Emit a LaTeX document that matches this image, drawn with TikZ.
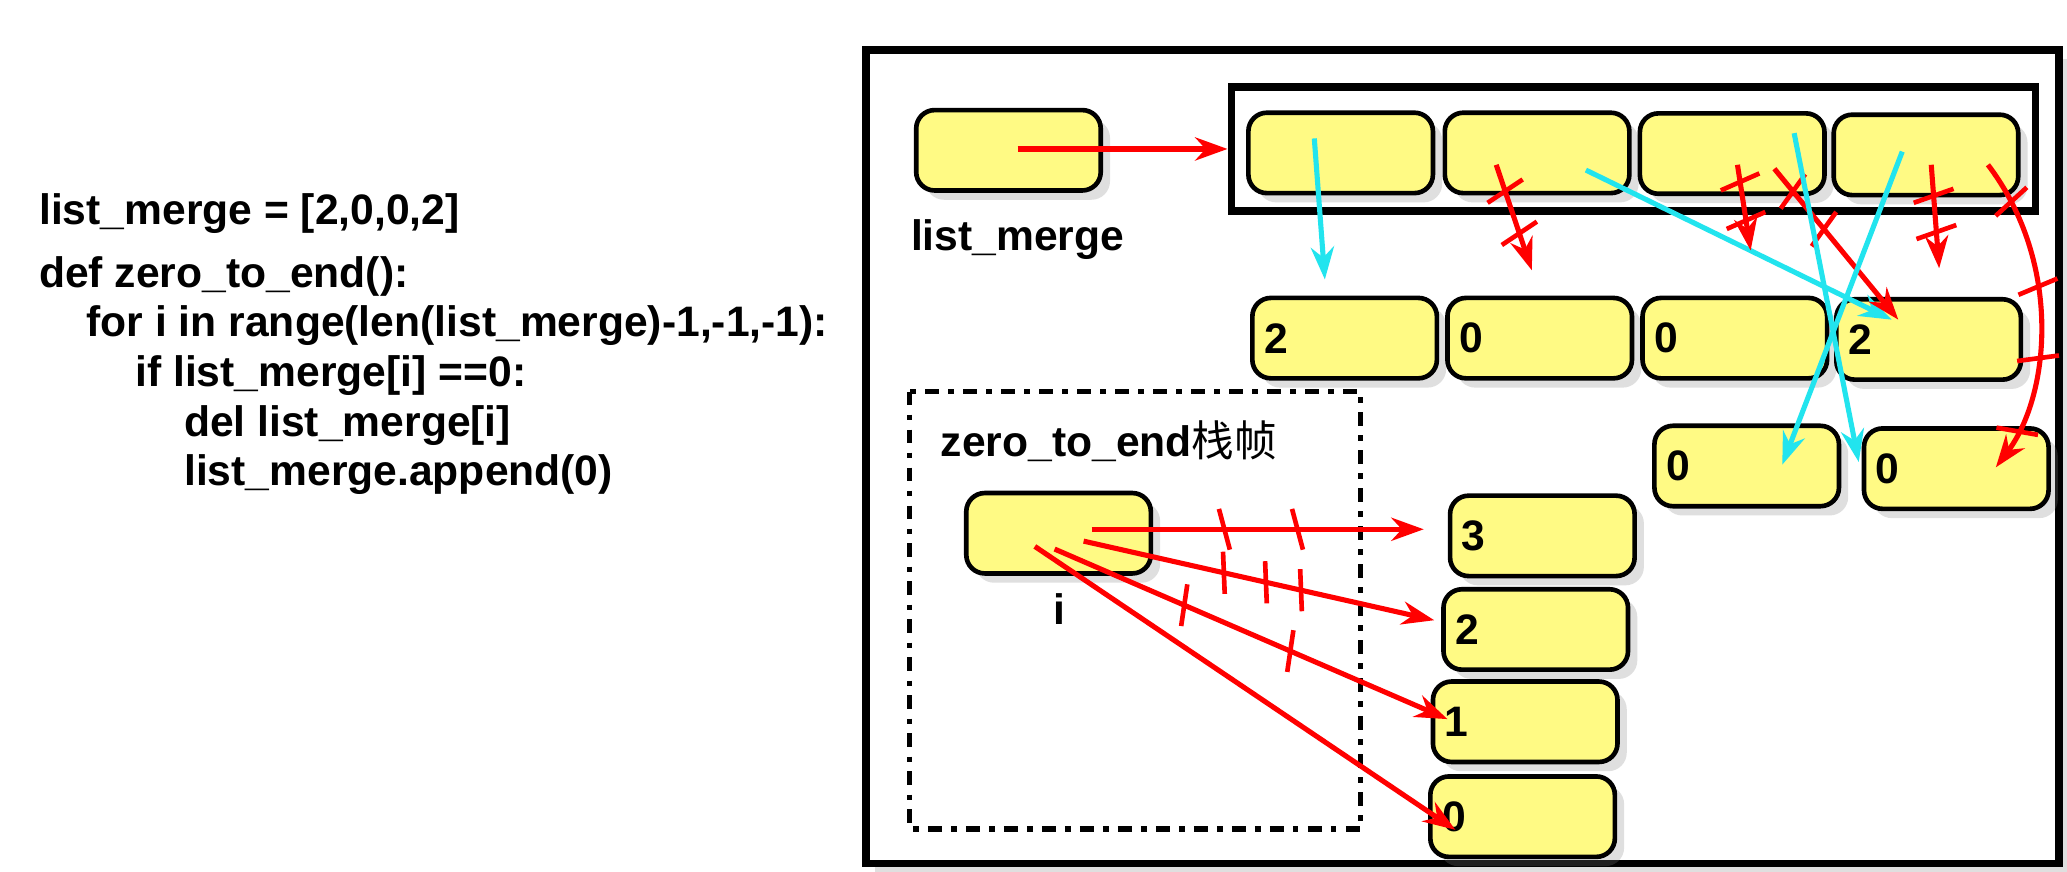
\documentclass[tikz,border=0pt]{standalone}
\usepackage{fontspec}
\setmainfont{Liberation Sans}
\newfontfamily\cjk{Noto Sans CJK SC}
\usetikzlibrary{calc,shadows,arrows.meta}

\definecolor{cellyellow}{HTML}{FFFA84}
\definecolor{ptrcyan}{HTML}{22E4EE}

\tikzset{
  cell/.style={draw, line width=1pt, rounded corners=4pt, fill=cellyellow,
    drop shadow={opacity=0.25, shadow xshift=2pt, shadow yshift=-2pt},
    minimum width=1.4cm, minimum height=0.61cm, inner sep=0pt,
    text width=1.22cm, align=left, font=\bfseries\fontsize{9.2}{11}\selectfont},
  ptr/.style={red, line width=1.1pt, -{Stealth[length=7pt,width=5pt]}},
  ref/.style={ptrcyan, line width=1.1pt, -{Stealth[length=7pt,width=5pt]}},
  tick/.style={draw=red, line width=1pt, sloped, rotate=15, minimum height=0.32cm,
    minimum width=0pt, inner sep=0pt},
  lbl/.style={inner sep=0pt, font=\bfseries\fontsize{9.2}{11}\selectfont}
}

\begin{document}
\begin{tikzpicture}[x=1cm, y=-1cm]
	\useasboundingbox (0,0) rectangle (15.68,6.61);
	% code
	\node[lbl, anchor=west] (l1) at (0.29,1.62) {list\_merge = [2,0,0,2]};
	\node[lbl, anchor=west] (l2) at (0.29,2.10) {def zero\_to\_end():};
	\node[lbl, anchor=west] (l3) at (0.65,2.47) {for i in range(len(list\_merge)-1,-1,-1):};
	\node[lbl, anchor=west] (l4) at (1.02,2.85) {if list\_merge[i] ==0:};
	\node[lbl, anchor=west] (l5) at (1.39,3.23) {del list\_merge[i]};
	\node[lbl, anchor=west] (l6) at (1.39,3.60) {list\_merge.append(0)};
	% frames
	\draw[line width=1.6pt, drop shadow={opacity=0.25, shadow xshift=2pt, shadow yshift=-2pt}, fill=white] (6.57,0.38) rectangle (15.62,6.55);
	\node[draw, line width=1.6pt, fill=white, minimum width=6.1cm, minimum height=0.94cm] (arr) at (12.39,1.13) {};
	\draw[line width=1.2pt, dash dot] (6.90,2.97) rectangle (10.32,6.29);
	\node[lbl, anchor=west] (frm) at (7.13,3.35) {zero\_to\_end{\cjk\mdseries 栈帧}};
	% cells
	\node[cell] (lm) at (7.65,1.14) {};
	\node[lbl] (lmt) at (7.72,1.82) {list\_merge};
	\node[cell] (c1) at (10.17,1.16) {};
	\node[cell] (c2) at (11.66,1.16) {};
	\node[cell] (c3) at (13.14,1.165) {};
	\node[cell] (c4) at (14.61,1.175) {};
	\node[cell] (v1) at (10.20,2.565) {2};
	\node[cell] (v2) at (11.68,2.565) {0};
	\node[cell] (v3) at (13.16,2.565) {0};
	\node[cell] (v4) at (14.63,2.575) {2};
	\node[cell] (w1) at (13.25,3.535) {0};
	\node[cell] (w2) at (14.84,3.555) {0};
	\node[cell] (i) at (8.03,4.045) {};
	\node[lbl] (it) at (8.04,4.62) {i};
	\node[cell] (n3) at (11.70,4.065) {3};
	\node[cell] (n2) at (11.65,4.775) {2};
	\node[cell] (n1) at (11.57,5.475) {1};
	\node[cell] (n0) at (11.55,6.195) {0};
	% list_merge refs
	\draw[ptr] ($(lm)+(0.07,-0.01)$) -- (arr.west);
	\draw[ref] ($(c1)+(-0.20,-0.11)$) -- ($(c1)+(-0.12,0.96)$);
	\draw[ptr] ($(c2)+(-0.31,0.09)$) -- ($(c2)+(-0.04,0.89)$) node[tick, pos=0.25]{} node[tick, pos=0.65]{};
	\draw[ref] ($(c2)+(0.37,0.13)$) -- ($(v4)+(-0.28,-0.15)$);
	\draw[ptr] ($(c3)+(0.04,0.085)$) -- ($(c3)+(0.14,0.735)$) node[tick, pos=0.2]{} node[tick, pos=0.65]{};
	\draw[ptr] ($(c3)+(0.32,0.115)$) -- ($(v4)+(-0.23,-0.15)$) node[tick, pos=0.15]{} node[tick, pos=0.4]{};
	\draw[ref] ($(c3)+(0.47,-0.155)$) -- ($(w2)+(-0.74,-0.05)$);
	\draw[ref] ($(c4)+(-0.18,-0.025)$) -- ($(w1)+(0.27,-0.01)$);
	\draw[ptr] ($(c4)+(0.04,0.075)$) -- ($(c4)+(0.1,0.86)$) node[tick, pos=0.3]{} node[tick, pos=0.65]{};
	\draw[ptr] ($(c4)+(0.47,0.075)$) .. controls (15.65,2.0) and (15.55,3.0) .. ($(w2)+(0.3,-0.01)$) node[tick, pos=0.12]{} node[tick, pos=0.38]{} node[tick, pos=0.6]{} node[tick, pos=0.85]{};
	% i refs
	\draw[ptr] ($(i)+(0.25,-0.03)$) -- ($(n3)+(-0.9,-0.05)$) node[tick, pos=0.4]{} node[tick, pos=0.62]{};
	\draw[ptr] ($(i)+(0.19,0.06)$) -- ($(n2)+(-0.77,-0.07)$) node[tick, pos=0.4]{} node[tick, pos=0.52]{} node[tick, pos=0.62]{};
	\draw[ptr] ($(i)+(-0.03,0.12)$) -- ($(n1)+(-0.59,-0.02)$) node[tick, pos=0.33]{} node[tick, pos=0.6]{};
	\draw[ptr] ($(i)+(-0.18,0.1)$) -- ($(n0)+(-0.51,0.1)$);
\end{tikzpicture}
\end{document}
